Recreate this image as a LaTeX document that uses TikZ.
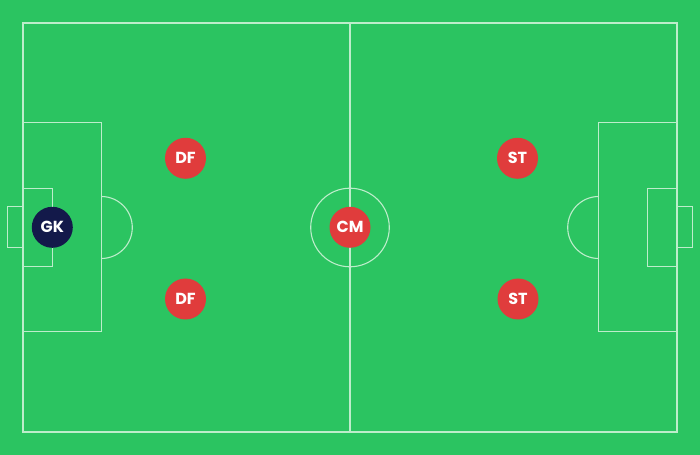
\documentclass[tikz,border=0pt]{standalone}
\usepackage{fontspec}
\setmainfont{Poppins}
\definecolor{pitch}{HTML}{2BC461}
\definecolor{player}{HTML}{E03C3C}
\definecolor{keeper}{HTML}{13194A}
\definecolor{chalk}{HTML}{BDEDCB}
\tikzset{
  fieldline/.style={draw=chalk, line width=1.1bp},
  playerdot/.style={circle, fill=player, minimum size=41bp, inner sep=0pt, text=white, font=\fontsize{16bp}{18bp}\selectfont\bfseries},
  keeperdot/.style={playerdot, fill=keeper}
}
\begin{document}
\begin{tikzpicture}[x=1bp, y=-1bp]
\fill[pitch] (0,0) rectangle (700,455);
\useasboundingbox (0,0) rectangle (700,455);
% outline and halfway line
\draw[fieldline] (23,23) rectangle (677,432);
\draw[fieldline] (350,23) -- (350,432);
\draw[fieldline] (350,227.5) circle (39.3);
% left end
\draw[fieldline] (23,122.7) rectangle (101.3,331.7);
\draw[fieldline] (23,188.3) rectangle (52.7,266.7);
\draw[fieldline] (23,206.7) -- (7.3,206.7) -- (7.3,247.7) -- (23,247.7);
\draw[fieldline] (101.3,196.5) arc[start angle=-90, end angle=90, radius=31];
% right end
\draw[fieldline] (598.7,122.7) rectangle (677,331.7);
\draw[fieldline] (647.3,188.3) rectangle (677,266.7);
\draw[fieldline] (677,206.7) -- (692.7,206.7) -- (692.7,247.7) -- (677,247.7);
\draw[fieldline] (598.7,196.5) arc[start angle=270, end angle=90, radius=31];
% players
\node[keeperdot] (gk) at (52.3,227.3) {GK};
\node[playerdot] (df1) at (185.5,158.3) {DF};
\node[playerdot] (df2) at (185.5,299) {DF};
\node[playerdot] (cm) at (350,227.3) {CM};
\node[playerdot] (st1) at (517.5,158.3) {ST};
\node[playerdot] (st2) at (518,299) {ST};
\end{tikzpicture}
\end{document}
